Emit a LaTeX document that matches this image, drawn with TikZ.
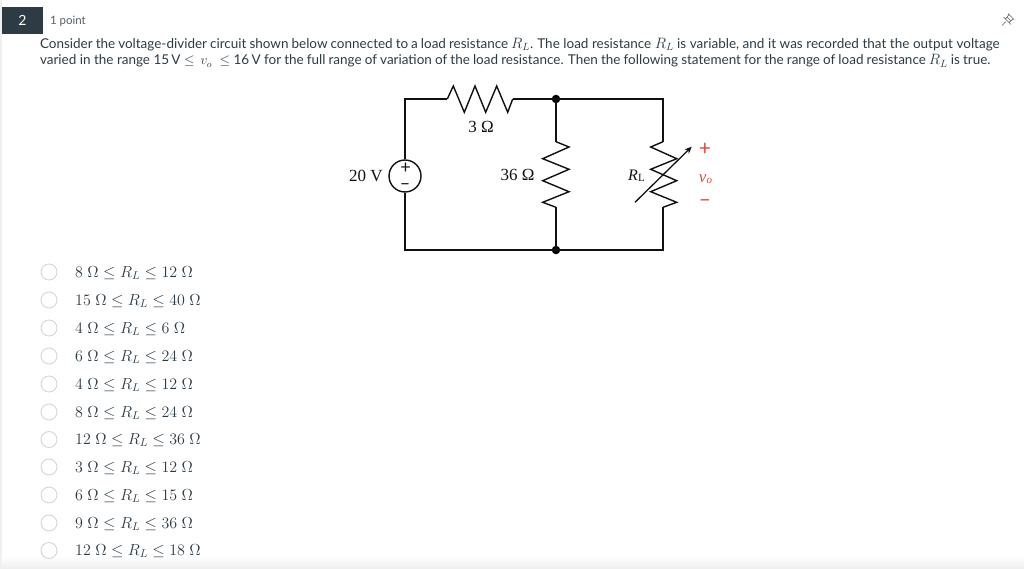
\RequirePackage{fix-cm}
\documentclass[tikz,border=0pt]{standalone}
\usepackage{fontspec}
\setmainfont{Lato}
\usepackage{amsmath}
\usetikzlibrary{arrows.meta}
\definecolor{badge}{HTML}{2D3B45}
\definecolor{body}{HTML}{2D3B45}
\definecolor{muted}{HTML}{555F66}
\definecolor{radio}{HTML}{D4D6D8}
\definecolor{wirec}{HTML}{111111}
\definecolor{redl}{HTML}{E2493F}
\tikzset{
  x=1pt,y=-1pt,
  prose/.style={anchor=base west,inner sep=0pt,outer sep=0pt,text=body,font=\fontsize{13.5}{15}\selectfont},
  wire/.style={draw=wirec,line width=1.5pt,line join=miter},
  zig/.style={draw=wirec,line width=1.4pt,line join=miter},
  dot/.style={circle,fill=black,inner sep=0pt,minimum size=8.5pt},
  clabel/.style={inner sep=0pt,text=wirec},
  redlabel/.style={inner sep=0pt,text=redl},
  choice/.style={anchor=base west,inner sep=0pt,text=body,font=\fontsize{16}{18}\selectfont},
  radiob/.style={circle,draw=radio,line width=0.9pt,fill=white,minimum size=16pt,inner sep=0pt},
}
\newfontfamily\serifc{Liberation Serif}
\newcommand{\rload}{{\fontsize{15}{15}\selectfont$R_L$}}
\begin{document}
\begin{tikzpicture}
\useasboundingbox (0,0) rectangle (1024,569);
\fill[white] (0,0) rectangle (1024,569);
\shade[top color=white,bottom color=black!7] (0,556) rectangle (1024,569);
\fill[black!6] (0,0) rectangle (2,569);
% header
\node[fill=badge,minimum width=41pt,minimum height=27pt,inner sep=0pt,text=white,font=\fontsize{14}{16}\selectfont] (badgeq) at (22.5,20.5) {2};
\node[prose,text=muted,font=\fontsize{11.5}{14}\selectfont] (pts) at (50,24.5) {1 point};
% pin
\draw[muted,line width=0.6pt] (1002,25.5) -- (1006,21.5)
  (1003.5,17) -- (1011,24.5)
  (1005.5,19) -- (1009,14.5) (1009,22.5) -- (1013,19)
  (1008,13.5) -- (1014,19.5)
  (1007,17) -- (1011,21);
% question
\node[prose] (l1) at (40,48.5) {\spaceskip=3pt Consider the voltage-divider circuit shown below connected to a load resistance \rload. \spaceskip=3.55pt The load resistance \rload{} is variable, and it was recorded that the output voltage};
\node[prose] (l2) at (40,65) {varied in the range 15\,V $\leq\, v_o\;\leq$ 16\,V \spaceskip=3.1pt for the full range of variation of the load resistance. Then the following statement for the range of load resistance \rload{} is true.};
% circuit anchors
\coordinate (tl) at (405,99);
\coordinate (bl) at (405,250);
\coordinate (tr) at (663,99);
\coordinate (br) at (663,250);
\node[circle,draw=wirec,line width=1.4pt,minimum size=32pt,inner sep=0pt] (src) at (405,176) {};
\node[dot] (nt) at (556,99) {};
\node[dot] (nb) at (556,250) {};
\coordinate (r1a) at (447.3,99);
\coordinate (r1b) at (512.7,99);
\coordinate (r2a) at (556,141.7);
\coordinate (r2b) at (556,207.3);
\coordinate (r3a) at (663,141.7);
\coordinate (r3b) at (663,207.3);
\coordinate (arA) at (635,202.3);
\coordinate (arB) at (691.7,146.7);
\draw[wire] (src.north) -- (tl) -- (r1a);
\draw[wire] (r1b) -- (nt.center) -- (tr) -- (r3a);
\draw[wire] (nt.center) -- (r2a);
\draw[wire] (r2b) -- (nb.center);
\draw[wire] (r3b) -- (br) -- (nb.center) -- (bl) -- (src.south);
\draw[zig] (r1a) -- (453.3,86) -- (464.3,112.3) -- (475,86) -- (485.7,112.3) -- (496.7,86) -- (507.7,112.3) -- (r1b);
\draw[zig] (r2a) -- (569,147) -- (542.7,158.7) -- (569,169.3) -- (542.7,180.7) -- (569,191.7) -- (542.7,202.3) -- (r2b);
\draw[zig] (r3a) -- (650.7,147) -- (676.7,158.7) -- (650.7,169.3) -- (676.7,180.7) -- (650.7,191.7) -- (676.7,202.3) -- (r3b);
\draw[draw=wirec,line width=1.3pt,-{Stealth[length=7pt,width=6pt]}] (arA) -- (arB);
\node[inner sep=0pt,font=\fontsize{18}{18}\selectfont,text=wirec] (sp) at (405.5,168) {+};
\node[inner sep=0pt,font=\fontsize{18}{18}\selectfont,text=wirec] (sm) at (405,186.5) {--};
\node[clabel,font=\fontsize{17}{18}\selectfont\serifc] (l3) at (481,126.5) {3 Ω};
\node[clabel,font=\fontsize{17}{18}\selectfont\serifc] (l20) at (366,175.5) {20 V};
\node[clabel,font=\fontsize{17}{18}\selectfont\serifc] (l36) at (517.5,174.5) {36 Ω};
\node[clabel,font=\fontsize{16}{18}\selectfont\serifc] (lr) at (636.5,175.5) {\textit{R}\kern0.3pt{\fontsize{11}{11}\selectfont\raisebox{-1pt}{L}}};
\node[redlabel,font=\fontsize{21}{21}\selectfont] (pl) at (705,149) {+};
\node[redlabel,font=\fontsize{17}{17}\selectfont\serifc] (vo) at (705.5,179) {\textit{v}{\fontsize{11}{11}\selectfont\raisebox{-1.5pt}{\textit{o}}}};
\node[redlabel,font=\fontsize{21}{21}\selectfont] (mi) at (705,203) {--};
% choices
\foreach \n/\yy/\lo/\hi in {a/272/8/12,b/300/15/40,c/328/4/6,d/356/6/24,e/384/4/12,f/412/8/24,g/439.5/12/36,h/467/3/12,i/495/6/15,j/523/9/36,k/550.5/12/18}{
  \node[radiob] (rb\n) at (49,\yy) {};
  \node[choice] (ch\n) at (75,\yy+5) {$\lo\;\Omega\leq R_L\leq\hi\;\Omega$};
}
\end{tikzpicture}
\end{document}
